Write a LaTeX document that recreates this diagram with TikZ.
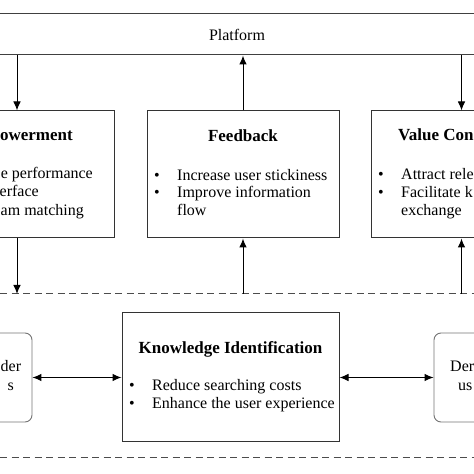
\documentclass[tikz,border=0pt]{standalone}
\usepackage{fontspec}
\setmainfont{Liberation Serif}
\usetikzlibrary{arrows.meta}
\begin{document}
\begin{tikzpicture}[
  x=1pt,y=1pt,
  box/.style={draw=black!80, line width=1pt, inner sep=0pt, minimum height=127pt},
  soft/.style={draw=black!55, line width=0.9pt, rounded corners=7pt, inner sep=0pt,
               minimum width=100pt, minimum height=89pt},
  bar/.style={draw=black!75, line width=1pt, minimum width=520pt, minimum height=41pt,
              font=\fontsize{16}{18}\selectfont},
  txt/.style={inner sep=0pt, text height=11pt, text depth=3.5pt,
              font=\fontsize{16}{18}\selectfont},
  head/.style={txt, font=\fontsize{17}{19}\selectfont\bfseries},
  dot/.style={txt, anchor=center},
  flow/.style={-{Latex[length=9pt,width=7.5pt]}, line width=1pt},
  both/.style={{Latex[length=9pt,width=7.5pt]}-{Latex[length=9pt,width=7.5pt]}, line width=1pt},
  sep/.style={draw=black!70, line width=1pt, dash pattern=on 7pt off 4.5pt}
]
  \useasboundingbox (0,0) rectangle (474,474);
  \clip (0,0) rectangle (474,474);

  % platform layer
  \node[bar] (platform) at (237,439.5) {Platform};

  % upper row
  \node[box, minimum width=194pt] (emp) at (17,299.5) {};
  \node[box, minimum width=192pt] (fb) at (243,299.5) {};
  \node[box, minimum width=181pt] (val) at (461.5,299.5) {};

  \node[head, anchor=east] (empT) at (73,337) {owerment};
  \node[txt, anchor=east] (emp1) at (93,299) {e performance};
  \node[txt, anchor=east] (emp2) at (39,281) {erface};
  \node[txt, anchor=west] (emp3) at (0.5,262) {am matching};

  \node[head] (fbT) at (243,336) {Feedback};
  \node[dot] (fbD1) at (157,297) {\textbullet};
  \node[txt, anchor=west] (fb1) at (177,297) {Increase user stickiness};
  \node[dot] (fbD2) at (157,280) {\textbullet};
  \node[txt, anchor=west] (fb2) at (177,280) {Improve information};
  \node[txt, anchor=west] (fb3) at (177,262) {flow};

  \node[head, anchor=west] (valT) at (398,337) {Value Con};
  \node[dot] (valD1) at (381,298) {\textbullet};
  \node[txt, anchor=west] (val1) at (401,298) {Attract rele};
  \node[dot] (valD2) at (381,280) {\textbullet};
  \node[txt, anchor=west] (val2) at (401,280) {Facilitate k};
  \node[txt, anchor=west] (val3) at (401,262) {exchange};

  % lower row
  \node[soft] (need) at (-18,96.5) {};
  \node[txt, anchor=west] (need1) at (0.5,106) {der};
  \node[txt, anchor=east] (need2) at (14,87) {s};

  \node[box, minimum width=217pt, minimum height=129pt] (know) at (230.5,96.5) {};
  \node[head] (knowT) at (230.5,124) {Knowledge Identification};
  \node[dot] (knowD1) at (132,87) {\textbullet};
  \node[txt, anchor=west] (know1) at (152,87) {Reduce searching costs};
  \node[dot] (knowD2) at (132,69) {\textbullet};
  \node[txt, anchor=west] (know2) at (152,69) {Enhance the user experience};

  \node[soft] (derive) at (484,96.5) {};
  \node[txt, anchor=west] (derive1) at (450,106) {Der};
  \node[txt, anchor=west] (derive2) at (458,87) {us};

  % separators
  \coordinate (sepA) at (0,180);
  \coordinate (sepB) at (474,180);
  \coordinate (sepC) at (0,16);
  \coordinate (sepD) at (474,16);
  \draw[sep] (sepA) -- (sepB);
  \draw[sep] (sepC) -- (sepD);

  \draw[flow] (platform.south -| emp.north) -- (emp.north);
  \draw[flow] (fb.north) -- (fb.north |- platform.south);
  \draw[flow] (platform.south -| val.north) -- (val.north);

  \draw[flow] (emp.south) -- (emp.south |- sepA);
  \draw[flow] (fb.south |- sepA) -- (fb.south);
  \draw[flow] (val.south |- sepA) -- (val.south);

  \draw[both] (need.east) -- (know.west);
  \draw[both] (know.east) -- (derive.west);
\end{tikzpicture}
\end{document}
